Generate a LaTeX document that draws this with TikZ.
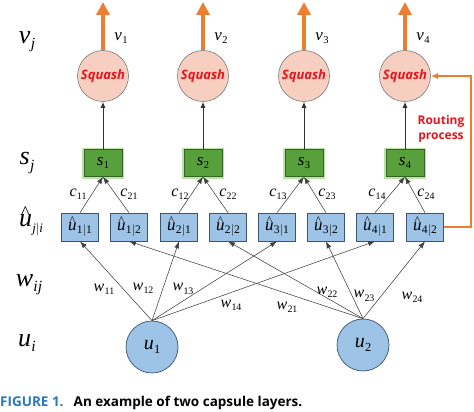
\documentclass[tikz,border=0pt]{standalone}
\usepackage{fontspec}
\setmainfont{Liberation Serif}
\newfontfamily\capfont{Open Sans}
\usetikzlibrary{arrows.meta}
\definecolor{peach}{RGB}{246,207,192}
\definecolor{sqred}{RGB}{232,20,30}
\definecolor{lblue}{RGB}{157,195,230}
\definecolor{dblue}{RGB}{60,85,115}
\definecolor{gfill}{RGB}{88,160,60}
\definecolor{gdark}{RGB}{50,100,35}
\definecolor{gglow}{RGB}{190,225,170}
\definecolor{orng}{RGB}{237,125,49}
\definecolor{figblue}{RGB}{40,120,190}
\newcommand\sbl[3][0.62]{{\itshape #2}\kern0.3pt\raisebox{-0.45ex}{\scalebox{#1}{#3}}}
\newcommand\hu{\leavevmode\setbox0\hbox{\itshape u}\rlap{\hbox to \wd0{\hss\raisebox{0.32em}{\scalebox{0.7}{\upshape\textasciicircum}}\hss}}\box0}
\newcommand\uhat[2]{\hu\kern0.3pt\raisebox{-0.45ex}{\scalebox{0.68}{#1$|$#2}}}
\tikzset{
  sq/.style={circle,minimum size=51pt,inner sep=0pt,fill=peach,draw=gray!80!black,line width=0.5pt,
    font=\capfont\bfseries\itshape\fontsize{13}{13}\selectfont,text=sqred},
  sbox/.style={rectangle,minimum width=38pt,minimum height=27pt,inner sep=0pt,fill=gfill,draw=gdark,line width=0.6pt,
    preaction={draw=gglow,line width=4pt},font=\fontsize{17}{17}\selectfont},
  ubox/.style={rectangle,minimum width=37pt,minimum height=28pt,inner sep=0pt,fill=lblue,draw=dblue,line width=0.6pt,
    font=\fontsize{17}{17}\selectfont},
  ucirc/.style={circle,minimum size=52pt,inner sep=0pt,fill=lblue,draw=dblue,line width=0.7pt,font=\fontsize{20}{20}\selectfont},
  side/.style={font=\fontsize{26}{26}\selectfont},
  vl/.style={font=\fontsize{17}{17}\selectfont},
  cl/.style={font=\fontsize{16}{16}\selectfont},
  wl/.style={font=\fontsize{16}{16}\selectfont},
  outarr/.style={orng,line width=4pt,-{Triangle[width=13pt,length=13pt]}},
  sarr/.style={black!80,line width=1pt,-{Latex[length=6pt,width=5pt]}},
  warr/.style={black!75,line width=0.55pt,-{Latex[length=7pt,width=5pt]}},
  route/.style={orng,line width=1.3pt,-{Latex[length=7pt,width=6pt]}},
  rtext/.style={font=\capfont\bfseries\fontsize{12}{15}\selectfont,text=sqred,align=center},
}
\begin{document}
\begin{tikzpicture}[x=1pt,y=-1pt]
\useasboundingbox (0,0) rectangle (474,412);
% side labels
\node[side] (Lv) at (27,42) {\sbl[0.6]{v}{\itshape j}};
\node[side] (Ls) at (27,163) {\sbl[0.6]{s}{\itshape j}};
\node[side] (Lu) at (31,221) {\hu\kern0.3pt\raisebox{-0.45ex}{\scalebox{0.5}{\itshape j$|$i}}};
\node[side] (Lw) at (29,285) {\sbl[0.6]{w}{\itshape ij}};
\node[side] (Li) at (27,343) {\sbl[0.6]{u}{\itshape i}};
% squash, s boxes
\foreach \i/\x in {1/103,2/203,3/304,4/405}{
  \node[sq] (q\i) at (\x,76) {Squash};
  \node[sbox] (s\i) at (\x,163) {\sbl{s}{\i}};
  \coordinate (t\i) at (\x,2);
  \node[vl] (v\i) at (\x+18,38) {\sbl{v}{\i}};
  \draw[outarr] (q\i.north) -- (t\i);
  \draw[sarr] (s\i.north) -- (q\i.south);
}
% u hat boxes
\node[ubox] (b1) at (80,227) {\uhat{1}{1}};
\node[ubox] (b2) at (129,227) {\uhat{1}{2}};
\node[ubox] (b3) at (179,227) {\uhat{2}{1}};
\node[ubox] (b4) at (228,227) {\uhat{2}{2}};
\node[ubox] (b5) at (277,227) {\uhat{3}{1}};
\node[ubox] (b6) at (326,227) {\uhat{3}{2}};
\node[ubox] (b7) at (375,227) {\uhat{4}{1}};
\node[ubox] (b8) at (425,227) {\uhat{4}{2}};
% c arrows
\foreach \j/\a/\b in {1/1/2,2/3/4,3/5/6,4/7/8}{
  \draw[warr] (b\a.north) -- (s\j.south);
  \draw[warr] (b\b.north) -- (s\j.south);
}
\node[cl] (c11) at (78,194) {\sbl{c}{11}};
\node[cl] (c21) at (129,194) {\sbl{c}{21}};
\node[cl] (c12) at (180,194) {\sbl{c}{12}};
\node[cl] (c22) at (228,194) {\sbl{c}{22}};
\node[cl] (c13) at (278,194) {\sbl{c}{13}};
\node[cl] (c23) at (327,194) {\sbl{c}{23}};
\node[cl] (c14) at (377,194) {\sbl{c}{14}};
\node[cl] (c24) at (426,194) {\sbl{c}{24}};
% u circles
\node[ucirc] (u1) at (152,347) {\sbl{u}{1}};
\node[ucirc] (u2) at (363,345) {\sbl{u}{2}};
\foreach \b in {1,3,5,7}{ \draw[warr] (u1.north) -- (b\b.south); }
\foreach \b in {2,4,6,8}{ \draw[warr] (u2.north) -- (b\b.south); }
\node[wl] (w11) at (104,289) {\sbl{w}{11}};
\node[wl] (w12) at (143,288) {\sbl{w}{12}};
\node[wl] (w13) at (183,289) {\sbl{w}{13}};
\node[wl] (w14) at (231,305) {\sbl{w}{14}};
\node[wl] (w21) at (287,307) {\sbl{w}{21}};
\node[wl] (w22) at (327,292) {\sbl{w}{22}};
\node[wl] (w23) at (364,296) {\sbl{w}{23}};
\node[wl] (w24) at (412,297) {\sbl{w}{24}};
% routing
\coordinate (r1) at (471,227);
\coordinate (r2) at (471,76);
\draw[route] (b8.east) -- (r1) -- (r2) -- (q4.east);
\node[rtext] (rt) at (441,129) {Routing\\process};
% caption
\node[anchor=base west,inner sep=0pt,font=\capfont\bfseries\fontsize{13.5}{13.5}\selectfont] (cap) at (0,406)
  {\textcolor{figblue}{FIGURE 1.}\hspace{0.75em}An example of two capsule layers.};
\end{tikzpicture}
\end{document}
